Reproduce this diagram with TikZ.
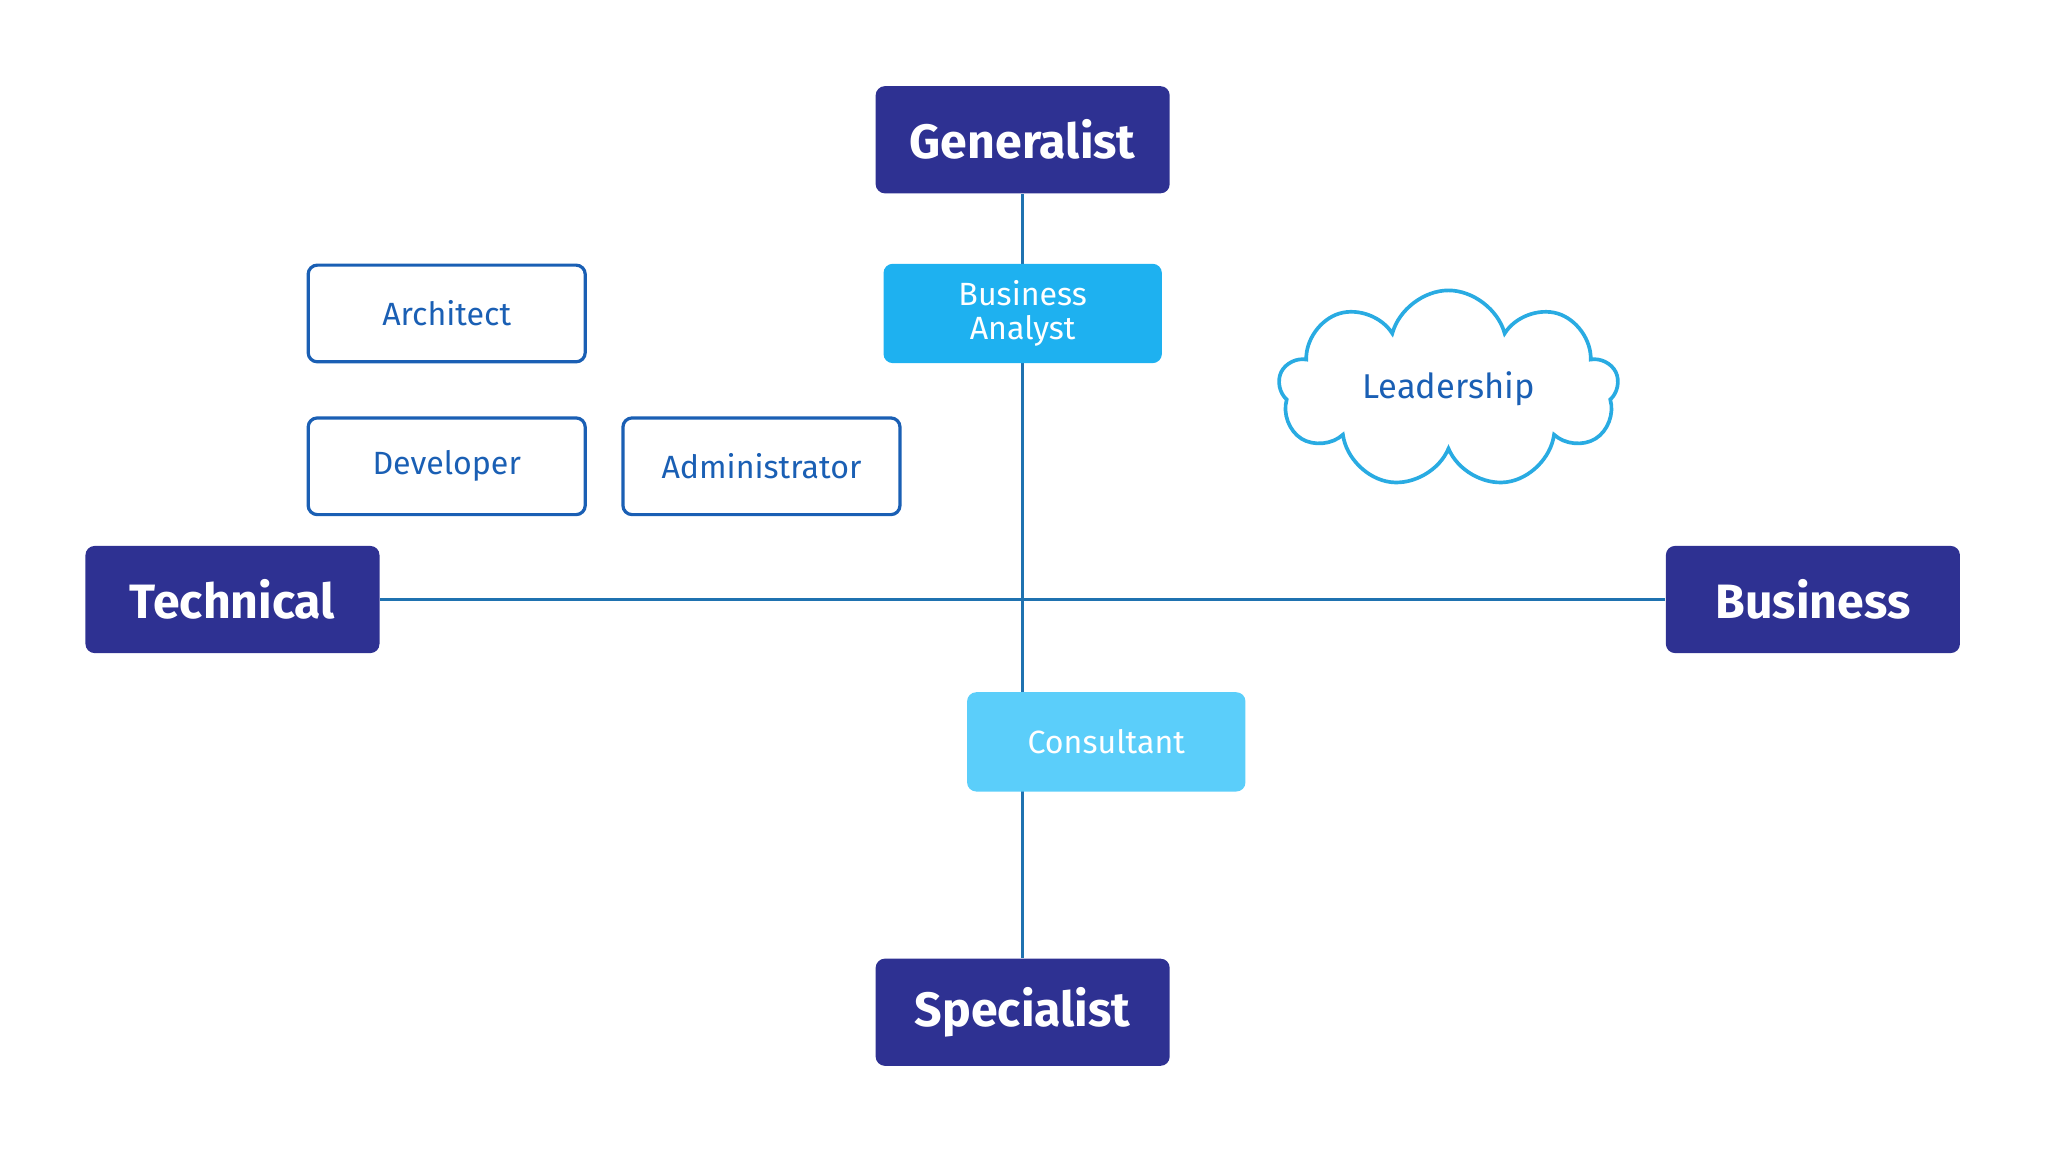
\documentclass[tikz,border=0pt]{standalone}
\usepackage{fontspec}
\setmainfont{Fira Sans}
\usetikzlibrary{shapes.symbols}
\definecolor{navy}{HTML}{2E3192}
\definecolor{ba}{HTML}{1EB1F0}
\definecolor{cons}{HTML}{5BCEFA}
\definecolor{edge}{HTML}{1A5FB4}
\definecolor{axis}{HTML}{1F72B0}
\definecolor{cloudc}{HTML}{29ABE2}
\begin{document}
\begin{tikzpicture}[x=0.01cm,y=-0.01cm,
 big/.style={fill=navy,rounded corners=2pt,minimum width=2.25cm,minimum height=0.82cm,text=white,font=\bfseries\fontsize{10.5}{12}\selectfont},
 role/.style={draw=edge,line width=0.7pt,rounded corners=2pt,minimum width=2.12cm,minimum height=0.74cm,text=edge,font=\fontsize{7}{8}\selectfont},
 filled/.style={rounded corners=2pt,minimum width=2.13cm,minimum height=0.76cm,text=white,font=\fontsize{7}{7.5}\selectfont,align=center},
 ax/.style={draw=axis,line width=0.6pt}]
\useasboundingbox (0,0) rectangle (1568,882);
\node[big] (gen) at (783,107) {Generalist};
\node[big] (spec) at (783,775) {Specialist};
\node[big] (tech) at (178,459) {Technical};
\node[big] (bus) at (1388,459) {Business};
\draw[ax] (gen) -- (spec);
\draw[ax] (tech) -- (bus);
\node[filled,fill=ba] (ba) at (783,240) {Business\\Analyst};
\node[filled,fill=cons] (con) at (847,568) {Consultant};
\node[role] (arch) at (342,240) {Architect};
\node[role] (dev) at (342,357) {Developer};
\node[role] (adm) at (583,357) {Administrator};
\node[cloud,cloud puffs=9,aspect=2.2,draw=cloudc,line width=0.8pt,minimum width=2.6cm,minimum height=1.3cm,text=edge,font=\fontsize{7.5}{8}\selectfont] (lead) at (1109,298) {Leadership};
\end{tikzpicture}
\end{document}
